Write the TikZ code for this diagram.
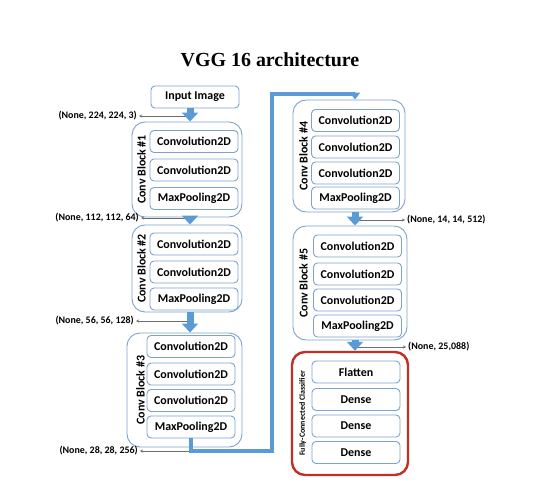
\documentclass[tikz,border=0pt]{standalone}
\usepackage{fontspec}
\setmainfont{Liberation Serif}
\newfontfamily\calib{Carlito}
\usetikzlibrary{arrows.meta, calc}

\definecolor{boxline}{RGB}{125,162,208}
\definecolor{flowblue}{RGB}{91,155,213}
\definecolor{fcred}{RGB}{192,48,38}
\definecolor{tapgray}{RGB}{110,110,110}

\tikzset{
    layer/.style={draw=boxline, line width=0.9bp, rounded corners=4bp, minimum width=88bp, minimum height=22bp, inner sep=0pt, font=\calib\bfseries\fontsize{12}{14}\selectfont},
    block/.style={draw=boxline, line width=0.9bp, rounded corners=13bp, inner sep=0pt},
    blocklabel/.style={rotate=90, font=\calib\bfseries\fontsize{12}{14}\selectfont},
    shapelabel/.style={font=\calib\bfseries\fontsize{10}{12}\selectfont, inner sep=2bp},
    flow/.style={flowblue, line width=7bp, -{Triangle[width=16bp,length=9bp]}},
    skip/.style={flowblue, line width=3.5bp, -{Triangle[width=10bp,length=7bp]}},
    tap/.style={tapgray, line width=0.6bp, -{Stealth[length=3bp,width=3bp]}},
}

\begin{document}
\begin{tikzpicture}[x=1bp, y=-1bp]
        \useasboundingbox (0,0) rectangle (541,496);
        \coordinate (spine) at (190,0);
        \coordinate (rspine) at (355,0);

        \node[anchor=base, font=\bfseries\fontsize{20}{24}\selectfont] (title) at (270,67) {VGG 16 architecture};
        \node[layer] (input) at (195,97) {Input Image};

        % left column
        \node[block, minimum width=110bp, minimum height=95bp] (b1) at (187,169.5) {};
        \node[blocklabel] (l1) at ([xshift=10bp]b1.west) {Conv Block \#1};
        \node[layer] (c11) at (194,141.5) {Convolution2D};
        \node[layer] (c12) at (194,170) {Convolution2D};
        \node[layer] (c13) at (194,198.5) {MaxPooling2D};

        \node[block, minimum width=110bp, minimum height=87bp] (b2) at (187,268.5) {};
        \node[blocklabel] (l2) at ([xshift=10bp]b2.west) {Conv Block \#2};
        \node[layer] (c21) at (194,244) {Convolution2D};
        \node[layer] (c22) at (194,272) {Convolution2D};
        \node[layer] (c23) at (194,299) {MaxPooling2D};

        \node[block, minimum width=115bp, minimum height=114bp] (b3) at (184.5,390) {};
        \node[blocklabel] (l3) at ([xshift=14bp]b3.west) {Conv Block \#3};
        \node[layer] (c31) at (191,346.5) {Convolution2D};
        \node[layer] (c32) at (191,374) {Convolution2D};
        \node[layer] (c33) at (191,400.5) {Convolution2D};
        \node[layer] (c34) at (191,427) {MaxPooling2D};

        % right column
        \node[block, minimum width=112bp, minimum height=112bp] (b4) at (349,156) {};
        \node[blocklabel] (l4) at ([xshift=11bp]b4.west) {Conv Block \#4};
        \node[layer] (c41) at (355.5,120.5) {Convolution2D};
        \node[layer] (c42) at (355.5,147) {Convolution2D};
        \node[layer] (c43) at (355.5,173) {Convolution2D};
        \node[layer] (c44) at (355.5,198) {MaxPooling2D};

        \node[block, minimum width=114bp, minimum height=114bp] (b5) at (350,283) {};
        \node[blocklabel] (l5) at ([xshift=11bp]b5.west) {Conv Block \#5};
        \node[layer] (c51) at (357.5,246) {Convolution2D};
        \node[layer] (c52) at (357.5,274) {Convolution2D};
        \node[layer] (c53) at (357.5,300) {Convolution2D};
        \node[layer] (c54) at (357.5,326) {MaxPooling2D};

        \node[block, draw=fcred, line width=2.4bp, minimum width=116bp, minimum height=123bp] (fc) at (350,413.5) {};
        \node[rotate=90, font=\calib\bfseries\fontsize{8}{9}\selectfont] (lfc) at ([xshift=12bp]fc.west) {Fully-Connected Classifier};
        \node[layer] (d1) at (356,372) {Flatten};
        \node[layer] (d2) at (356,399.5) {Dense};
        \node[layer] (d3) at (356,426) {Dense};
        \node[layer] (d4) at (356,452.5) {Dense};

        % output shapes
        \coordinate (t1) at (190,116);
        \coordinate (t2) at (190,218);
        \coordinate (t3) at (190,321);
        \coordinate (t4) at (191,451);
        \coordinate (t5) at (355,220);
        \coordinate (t6) at (355,347);
        \node[shapelabel, anchor=east] (s1) at (139,116) {(None, 224, 224, 3)};
        \node[shapelabel, anchor=east] (s2) at (141,218) {(None, 112, 112, 64)};
        \node[shapelabel, anchor=east] (s3) at (136,321) {(None, 56, 56, 128)};
        \node[shapelabel, anchor=east] (s4) at (140,451) {(None, 28, 28, 256)};
        \node[shapelabel, anchor=west] (s5) at (405,220) {(None, 14, 14, 512)};
        \node[shapelabel, anchor=west] (s6) at (406,347) {(None, 25,088)};
        \draw[tap] (t1) -- (s1);
        \draw[tap] (t2) -- (s2);
        \draw[tap] (t3) -- (s3);
        \draw[tap] (t4) -- (s4);
        \draw[tap] (t5) -- (s5);
        \draw[tap] (t6) -- (s6);

        % data flow
        \draw[flow] (input.south -| spine) -- (b1.north -| spine);
        \draw[flow] (b1.south -| spine) -- (b2.north -| spine);
        \draw[flow] (b2.south -| spine) -- (b3.north -| spine);
        \draw[flow] (b4.south -| rspine) -- (b5.north -| rspine);
        \draw[flow] (b5.south -| rspine) -- (fc.north -| rspine);

        \coordinate (k1) at (272,451);
        \coordinate (k2) at (272,94);
        \draw[skip] (c34.south) |- (k1) -- (k2) -| (b4.north -| rspine);
\end{tikzpicture}
\end{document}
